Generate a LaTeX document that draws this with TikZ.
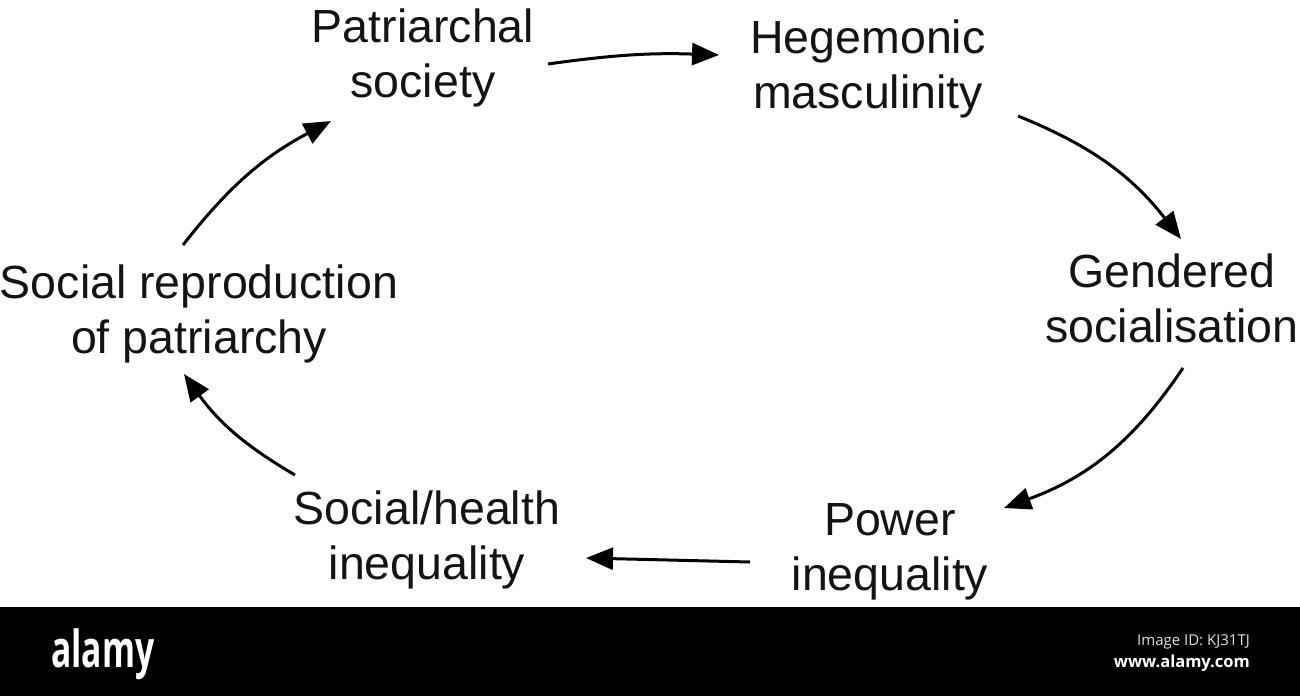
\documentclass[tikz,border=0pt]{standalone}
\usepackage{fontspec}
\setmainfont{Liberation Sans}
\newfontfamily\wmfont{Open Sans}
\usetikzlibrary{arrows.meta}
\begin{document}
\begin{tikzpicture}[x=1pt,y=-1pt,
  lbl/.style={align=center,inner sep=0pt,anchor=base,font=\fontsize{46.5}{55}\selectfont,text=black!92},
  cyc/.style={line width=3pt,-{Triangle[length=27pt,width=22pt]}},
  wm/.style={inner sep=0pt,text=white}]
\useasboundingbox (0,0) rectangle (1300,696);
\fill[white] (0,0) rectangle (1300,607);
\node[lbl] (pat) at (423,97) {Patriarchal\\society};
\node[lbl] (heg) at (868,108) {Hegemonic\\masculinity};
\node[lbl] (gen) at (1172,342) {Gendered\\socialisation};
\node[lbl] (pow) at (890,590) {Power\\inequality};
\node[lbl] (soc) at (427,579) {Social/health\\inequality};
\node[lbl] (rep) at (199,353) {Social reproduction\\of patriarchy};
\coordinate (a1s) at (548,64);  \coordinate (a1e) at (719,55);
\coordinate (a2s) at (1018,116); \coordinate (a2e) at (1181,239);
\coordinate (a3s) at (1183,368); \coordinate (a3e) at (1004,508);
\coordinate (a4s) at (750,562);  \coordinate (a4e) at (586,558);
\coordinate (a5s) at (295,475);  \coordinate (a5e) at (184,374);
\coordinate (a6s) at (183,245);  \coordinate (a6e) at (331,121);
\draw[cyc] (a1s) to[bend left=5] (a1e);
\draw[cyc] (a2s) to[bend left=15] (a2e);
\draw[cyc] (a3s) to[bend left=18] (a3e);
\draw[cyc] (a4s) -- (a4e);
\draw[cyc] (a5s) to[bend left=12] (a5e);
\draw[cyc] (a6s) to[bend left=12] (a6e);
\fill[black] (0,607) rectangle (1300,696);
\node[wm,anchor=base west] (alamy) at (51,667) {\scalebox{0.66}[1]{\wmfont\fontsize{51}{54}\selectfont\bfseries alamy}};
\node[wm,text=white!88!black,anchor=base east] (imgid) at (1250,645) {\wmfont\fontsize{15}{17}\selectfont Image ID: KJ31TJ};
\node[wm,anchor=base east] (www) at (1250,667) {\wmfont\fontsize{16.5}{18}\selectfont\bfseries www.alamy.com};
\end{tikzpicture}
\end{document}
